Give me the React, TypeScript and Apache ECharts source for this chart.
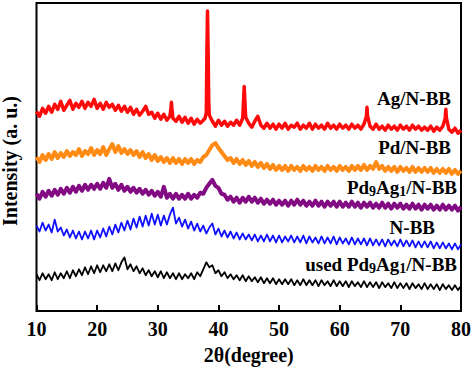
import React, { useEffect, useRef } from "react";
import * as echarts from "echarts";

const angles = [
  10, 10.5, 11, 11.5, 12, 12.5, 13, 13.5, 14, 14.5,
  15, 15.5, 16, 16.5, 17, 17.5, 18, 18.5, 19, 19.5,
  20, 20.5, 21, 21.5, 22, 22.5, 23, 23.5, 24, 24.5,
  25, 25.5, 26, 26.5, 27, 27.5, 28, 28.5, 29, 29.5,
  30, 30.5, 31, 31.5, 32, 32.5, 33, 33.5, 34, 34.5,
  35, 35.5, 36, 36.5, 37, 37.5, 38, 38.5, 39, 39.5,
  40, 40.5, 41, 41.5, 42, 42.5, 43, 43.5, 44, 44.5,
  45, 45.5, 46, 46.5, 47, 47.5, 48, 48.5, 49, 49.5,
  50, 50.5, 51, 51.5, 52, 52.5, 53, 53.5, 54, 54.5,
  55, 55.5, 56, 56.5, 57, 57.5, 58, 58.5, 59, 59.5,
  60, 60.5, 61, 61.5, 62, 62.5, 63, 63.5, 64, 64.5,
  65, 65.5, 66, 66.5, 67, 67.5, 68, 68.5, 69, 69.5,
  70, 70.5, 71, 71.5, 72, 72.5, 73, 73.5, 74, 74.5,
  75, 75.5, 76, 76.5, 77, 77.5, 78, 78.5, 79, 79.5,
  80,
];

const agNBB = [
  201, 196, 204, 199, 206, 200, 208, 203, 211, 202,
  207, 212, 203, 209, 205, 211, 204, 210, 206, 213,
  204, 209, 203, 210, 205, 208, 202, 207, 201, 206,
  200, 205, 198, 203, 197, 201, 206, 198, 200, 194,
  199, 193, 198, 192, 196, 194, 191, 196, 190, 195,
  189, 194, 188, 193, 189, 192, 200, 197, 191, 186,
  192, 187, 191, 186, 190, 187, 192, 187, 194, 195,
  189, 185, 191, 196, 187, 184, 189, 184, 188, 183,
  188, 184, 189, 183, 187, 185, 189, 183, 187, 184,
  189, 183, 188, 184, 187, 183, 189, 184, 187, 183,
  188, 184, 187, 183, 188, 184, 187, 183, 188, 205,
  186, 183, 188, 183, 186, 182, 187, 183, 186, 182,
  187, 183, 186, 182, 187, 183, 186, 182, 185, 182,
  186, 181, 185, 182, 186, 203, 183, 180, 184, 179,
  182,
];
const agPeaks = [
  [32.15, 203], [32.25, 210], [32.35, 202],
  [37.8, 194], [38.1, 262], [38.2, 302], [38.3, 262], [38.4, 212],
  [44.1, 206], [44.25, 226], [44.4, 206],
  [64.4, 196], [64.6, 196],
  [77.4, 194], [77.6, 194],
];

const pdNBB = [
  155, 150, 157, 152, 158, 153, 160, 154, 159, 155,
  161, 156, 160, 157, 163, 156, 161, 158, 164, 157,
  162, 158, 165, 157, 163, 168, 160, 166, 159, 163,
  158, 162, 157, 161, 155, 160, 154, 158, 152, 157,
  151, 155, 150, 154, 149, 154, 149, 153, 148, 153,
  149, 153, 148, 152, 150, 155, 157, 162, 167, 169,
  164, 160, 156, 152, 154, 149, 153, 148, 152, 147,
  151, 146, 150, 145, 149, 144, 148, 143, 147, 142,
  146, 142, 146, 141, 146, 142, 145, 141, 146, 142,
  145, 141, 146, 142, 145, 141, 146, 142, 145, 141,
  146, 142, 145, 141, 146, 142, 146, 142, 147, 142,
  146, 143, 150, 143, 146, 141, 145, 141, 145, 140,
  145, 141, 144, 140, 145, 140, 144, 140, 144, 140,
  144, 139, 143, 139, 143, 139, 143, 138, 142, 138,
  141,
];

const pd9Ag1NBB = [
  118, 113, 120, 115, 121, 116, 122, 117, 123, 118,
  124, 119, 125, 120, 126, 121, 127, 122, 127, 123,
  128, 123, 129, 124, 133, 124, 128, 122, 127, 121,
  125, 120, 124, 119, 123, 118, 122, 117, 121, 116,
  120, 115, 125, 114, 118, 113, 118, 113, 117, 113,
  118, 113, 117, 114, 119, 118, 124, 128, 132, 126,
  124, 118, 117, 112, 115, 110, 114, 109, 114, 110,
  115, 110, 114, 109, 113, 108, 112, 108, 112, 107,
  111, 107, 111, 106, 111, 107, 112, 107, 111, 106,
  110, 106, 111, 106, 110, 105, 110, 106, 110, 105,
  110, 105, 109, 105, 110, 105, 109, 104, 109, 105,
  109, 104, 108, 104, 109, 104, 108, 103, 108, 104,
  108, 103, 107, 103, 108, 103, 107, 102, 107, 103,
  107, 102, 106, 102, 107, 102, 106, 102, 106, 101,
  105,
];

const nBB = [
  86, 80, 89, 81, 87, 79, 92, 80, 84, 76,
  82, 74, 81, 73, 80, 72, 80, 73, 81, 72,
  81, 74, 83, 75, 85, 77, 87, 79, 89, 81,
  91, 82, 93, 84, 95, 85, 96, 86, 98, 87,
  97, 86, 96, 87, 97, 104, 88, 94, 85, 92,
  83, 90, 81, 88, 80, 86, 78, 84, 88, 77,
  83, 75, 81, 74, 80, 73, 79, 72, 78, 72,
  77, 71, 77, 70, 76, 70, 77, 70, 76, 69,
  76, 69, 75, 70, 76, 69, 75, 69, 76, 68,
  75, 69, 74, 68, 75, 68, 74, 68, 75, 67,
  74, 68, 73, 67, 74, 67, 73, 67, 73, 66,
  73, 66, 72, 66, 72, 65, 72, 66, 71, 65,
  72, 65, 71, 65, 71, 64, 70, 64, 70, 64,
  70, 63, 69, 63, 69, 63, 68, 62, 68, 62,
  67,
];

const usedPd9Ag1NBB = [
  37, 31, 38, 32, 37, 31, 39, 32, 38, 33,
  40, 33, 41, 35, 42, 36, 44, 37, 45, 38,
  46, 39, 46, 40, 47, 40, 48, 41, 49, 54,
  42, 47, 40, 45, 38, 43, 36, 41, 35, 40,
  34, 40, 33, 39, 33, 38, 32, 38, 32, 37,
  33, 38, 32, 39, 35, 42, 49, 44, 46, 38,
  41, 35, 39, 33, 37, 32, 36, 31, 36, 30,
  35, 30, 34, 29, 34, 28, 33, 28, 33, 27,
  32, 27, 32, 27, 32, 26, 31, 26, 32, 26,
  31, 26, 31, 25, 31, 26, 30, 25, 31, 25,
  30, 25, 30, 24, 30, 25, 29, 24, 30, 24,
  29, 24, 29, 23, 29, 24, 28, 23, 29, 23,
  28, 23, 28, 22, 28, 23, 27, 22, 28, 22,
  27, 22, 27, 21, 27, 22, 26, 21, 26, 21,
  25,
];

const xTicks = [10, 20, 30, 40, 50, 60, 70, 80];

const FONT = "'Liberation Serif', 'Times New Roman', serif";

function build(vals: number[], extra: number[][] = []) {
  const pts = angles.map((a, i) => [a, vals[i]]);
  extra.forEach((p) => pts.push(p));
  pts.sort((p, q) => p[0] - q[0]);
  return pts;
}

export default function App() {
  const ref = useRef<HTMLDivElement>(null);
  useEffect(() => {
    if (!ref.current) return;
    const chart = echarts.init(ref.current, null, { renderer: "svg" });
    const lbl = (text: string, right: number, y: number) => ({
      type: "text",
      x: right,
      y,
      z: 100,
      style: {
        text,
        align: "right",
        verticalAlign: "middle",
        fill: "#000",
        rich: {
          n: { fontFamily: FONT, fontWeight: "bold", fontSize: 19, fill: "#000" },
          s: { fontFamily: FONT, fontWeight: "bold", fontSize: 14, fill: "#000", padding: [9, 0, 0, 0] },
        },
      },
    });
    const mk = (name: string, data: number[][], color: string, width: number) => ({
      type: "line",
      name,
      data,
      showSymbol: false,
      symbol: "none",
      lineStyle: { color, width, join: "round" },
      itemStyle: { color },
    });
    chart.setOption({
      animation: false,
      grid: {
        left: 36.5,
        right: 13,
        top: 3,
        bottom: 57,
        show: true,
        borderColor: "#000",
        borderWidth: 2,
      },
      xAxis: {
        type: "value",
        min: 10,
        max: 80,
        interval: 10,
        axisLine: { show: false },
        axisTick: { show: true, inside: true, length: 6, lineStyle: { color: "#000", width: 2 } },
        splitLine: { show: false },
        axisLabel: {
          color: "#000",
          fontFamily: FONT,
          fontWeight: "bold",
          fontSize: 20,
          margin: 8,
          formatter: (v: number) => (xTicks.includes(v) ? String(v) : ""),
        },
        name: "2θ(degree)",
        nameLocation: "middle",
        nameGap: 34,
        nameTextStyle: { color: "#000", fontFamily: FONT, fontWeight: "bold", fontSize: 20 },
      },
      yAxis: {
        type: "value",
        min: 0,
        max: 310,
        show: false,
      },
      graphic: [
        {
          type: "text",
          x: 10,
          y: 161,
          rotation: Math.PI / 2,
          style: {
            text: "Intensity (a. u.)",
            align: "center",
            verticalAlign: "middle",
            fontFamily: FONT,
            fontWeight: "bold",
            fontSize: 20,
            fill: "#000",
          },
        },
        lbl("{n|Ag/N-BB}", 451, 98),
        lbl("{n|Pd/N-BB}", 451, 147),
        lbl("{n|Pd}{s|9}{n|Ag}{s|1}{n|/N-BB}", 457, 187),
        lbl("{n|N-BB}", 435, 227),
        lbl("{n|used Pd}{s|9}{n|Ag}{s|1}{n|/N-BB}", 457, 264),
      ],
      series: [
        mk("used Pd9Ag1/N-BB", build(usedPd9Ag1NBB), "#000000", 1.8),
        mk("N-BB", build(nBB), "#1010ff", 1.8),
        mk("Pd9Ag1/N-BB", build(pd9Ag1NBB), "#820a82", 4),
        mk("Pd/N-BB", build(pdNBB), "#ff8a14", 4),
        mk("Ag/N-BB", build(agNBB, agPeaks), "#ff0a0a", 3.5),
      ],
    });
    return () => chart.dispose();
  }, []);
  return (
    <div
      ref={ref}
      style={{ position: "absolute", left: 0, top: 0, width: 474, height: 370 }}
    />
  );
}
